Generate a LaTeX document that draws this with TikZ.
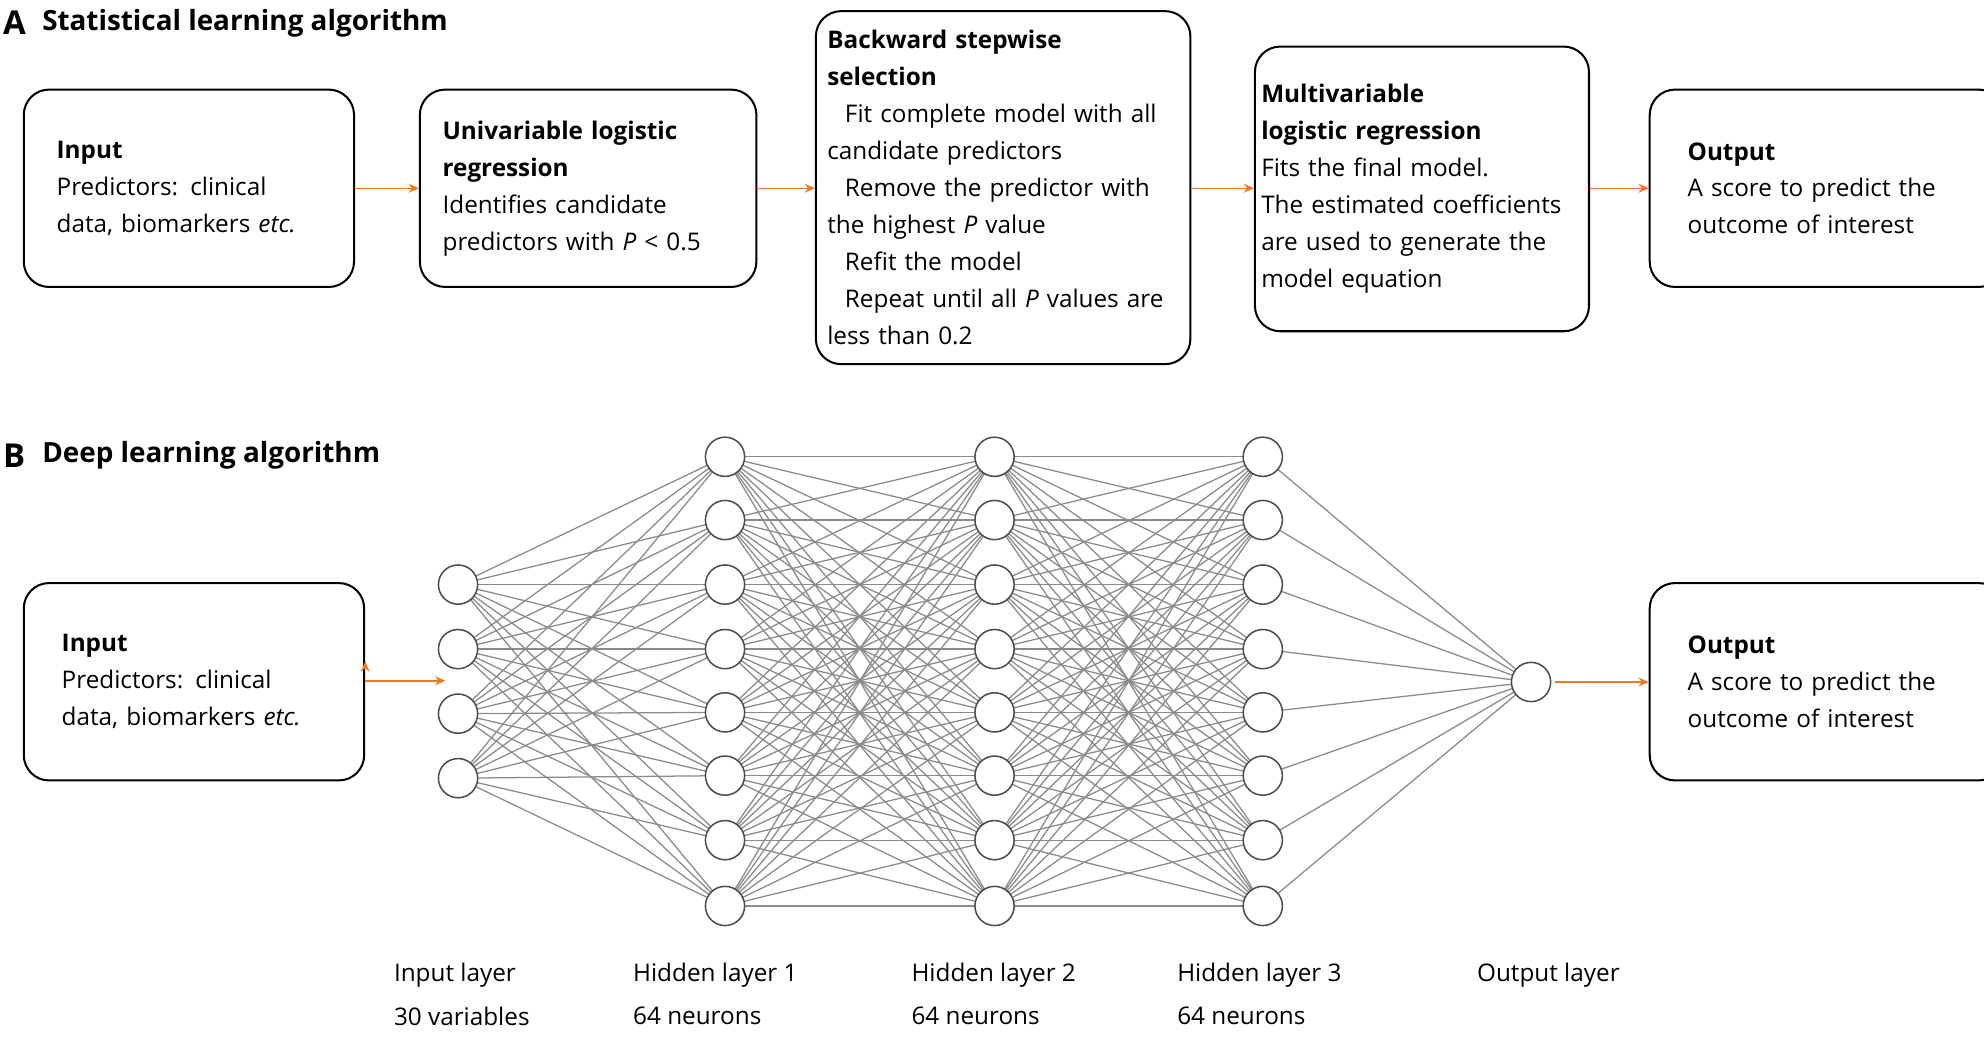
\documentclass[tikz,border=0pt]{standalone}
\usepackage{fontspec}
\setmainfont{Open Sans}
\usetikzlibrary{arrows.meta}
\definecolor{org}{HTML}{F07820}
\definecolor{edge}{HTML}{8A8A8A}
\begin{document}
\begin{tikzpicture}[x=0.5pt,y=-0.5pt,
  font=\fontsize{9.6pt}{14.6pt}\selectfont,
  box/.style={draw,line width=0.8pt,rounded corners=10pt,align=left,anchor=north west,inner ysep=0pt},
  arr/.style={draw=org,line width=0.6pt,-{Stealth[length=4pt,width=3.5pt]}},
  neu/.style={circle,draw=black!70,fill=white,line width=0.6pt,minimum size=15.5pt,inner sep=0pt},
  lab/.style={anchor=west,inner sep=0pt},
  hd/.style={font=\fontsize{11pt}{14pt}\selectfont\bfseries}]
\useasboundingbox (0,0) rectangle (1568,824);
% section A
\node[lab,font=\fontsize{13pt}{14pt}\selectfont\bfseries] (la) at (2,18) {A};
\node[lab,hd] (ta) at (33,18) {Statistical learning algorithm};
\node[box,text width=209pt/2*2-52pt/2*0,minimum width=261pt/2,minimum height=156pt/2,text width=104.5pt,inner xsep=13pt] (a1) at (18,70)
 {\textbf{Input}\\Predictors: clinical\\data, biomarkers \textit{etc.}};
\node[box,minimum width=130.5pt,minimum height=78pt,text width=115pt,inner xsep=9pt] (a2) at (331,70)
 {\textbf{Univariable logistic}\\\textbf{regression}\\Identifies candidate\\predictors with \textit{P} < 0.5};
\node[box,minimum width=147.5pt,minimum height=139.5pt,text width=139pt,inner xsep=4.5pt] (a3) at (644,8)
 {\textbf{Backward stepwise}\\\textbf{selection}\\\hspace*{7pt}Fit complete model with all\\candidate predictors\\\hspace*{7pt}Remove the predictor with\\the highest \textit{P} value\\\hspace*{7pt}Refit the model\\\hspace*{7pt}Repeat until all \textit{P} values are\\less than 0.2};
\node[box,minimum width=130pt,minimum height=112.5pt,text width=127pt,inner xsep=2.5pt] (a4) at (991,36)
 {\textbf{Multivariable}\\\textbf{logistic regression}\\Fits the final model.\\The estimated coefficients\\are used to generate the\\model equation};
\node[box,minimum width=131pt,minimum height=78pt,text width=110pt,inner xsep=15pt] (a5) at (1303,70)
 {\textbf{Output}\\A score to predict the\\outcome of interest};
\draw[arr] (a1.east) -- (a2.west);
\draw[arr] (a2.east) -- (a3.west|-a2.east);
\draw[arr] (a3.east|-a2.east) -- (a4.west|-a2.east);
\draw[arr] (a4.east|-a2.east) -- (a5.west);
% section B
\node[lab,font=\fontsize{13pt}{14pt}\selectfont\bfseries] (lb) at (2,360) {B};
\node[lab,hd] (tb) at (33,360) {Deep learning algorithm};
\node[box,minimum width=130.5pt,minimum height=78pt,text width=104.5pt,inner xsep=15pt] (b1) at (18,460)
 {\textbf{Input}\\Predictors: clinical\\data, biomarkers \textit{etc.}};
\node[box,minimum width=131pt,minimum height=78pt,text width=110pt,inner xsep=15pt] (b5) at (1303,460)
 {\textbf{Output}\\A score to predict the\\outcome of interest};
% neurons
\foreach \i/\y in {1/462,2/513,3/564,4/615} \coordinate (i\i) at (362,\y);
\foreach \i/\y in {1/361,2/411,3/462,4/513,5/563,6/613,7/664,8/716}{
  \coordinate (h\i) at (573,\y);\coordinate (k\i) at (786,\y);\coordinate (m\i) at (998,\y);}
\coordinate (o1) at (1210,539);
\begin{scope}[draw=edge,line width=0.5pt]
\foreach \a in {1,...,4}\foreach \b in {1,...,8}\draw (i\a) -- (h\b);
\foreach \a in {1,...,8}\foreach \b in {1,...,8}{\draw (h\a) -- (k\b);\draw (k\a) -- (m\b);}
\foreach \a in {1,...,8}\draw (m\a) -- (o1);
\end{scope}
\foreach \i in {1,...,4}\node[neu] (ni\i) at (i\i) {};
\foreach \i in {1,...,8}{\node[neu] (nh\i) at (h\i) {};\node[neu] (nk\i) at (k\i) {};\node[neu] (nm\i) at (m\i) {};}
\node[neu] (no) at (o1) {};
\draw[arr] (b1.east|-ni3.north) ++(0,-25) coordinate (bs) ;
\coordinate (bin) at (279,538);\coordinate (bin2) at (352,538);
\draw[arr] (b1.east|-bin) -- (bin2);
\draw[arr] (no.east) ++(3,0) coordinate (bo) -- (b5.west|-no.east);
% layer labels
\foreach \x/\t/\s in {311/Input layer/30 variables,500/Hidden layer 1/64 neurons,720/Hidden layer 2/64 neurons,930/Hidden layer 3/64 neurons}{
  \node[lab] at (\x,771) {\t};\node[lab] at (\x,803) {\s};}
\node[lab] (ol) at (1167,771) {Output layer};
\end{tikzpicture}
\end{document}
